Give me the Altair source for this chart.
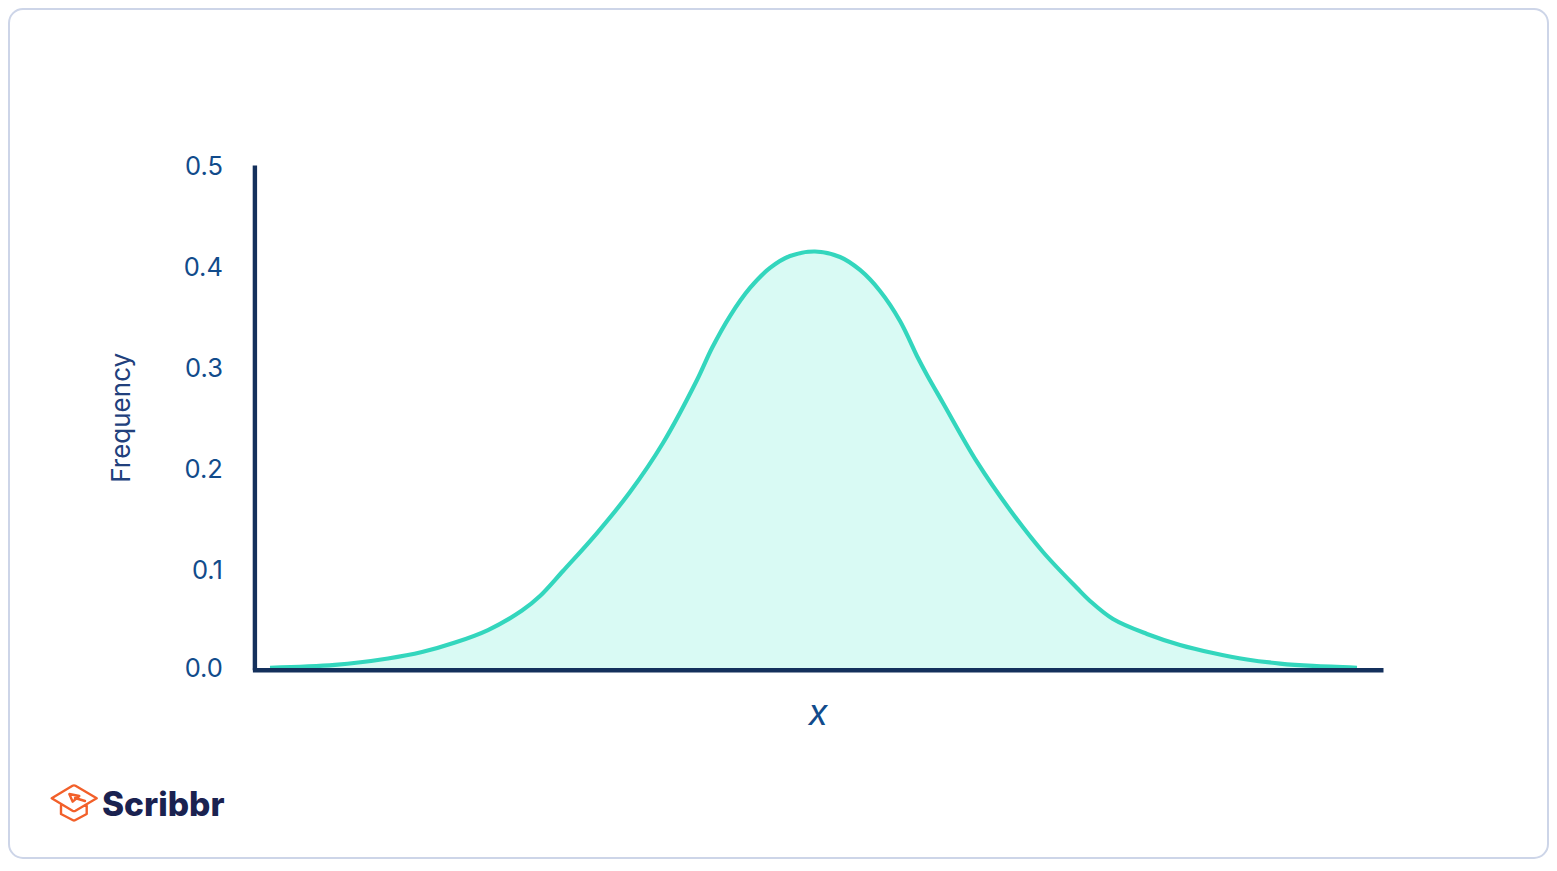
import altair as alt
import pandas as pd

x_values = [-5.45, -4.80, -4.27, -3.93, -3.60, -3.27, -2.93, -2.75, -2.52, -2.18, -1.85, -1.52, -1.18, -1.03,
            -0.85, -0.65, -0.45, -0.25, 0.0, 0.25, 0.45, 0.65, 0.85, 1.03, 1.12, 1.28, 1.62, 1.95, 2.28, 2.62,
            2.75, 2.98, 3.32, 3.65, 3.98, 4.32, 4.65, 4.98, 5.42]
frequency = [.0019, .0047, .0111, .0175, .0269, .0393, .0586, .0730, .0978, .1354, .1760, .2246, .2870, .3187,
             .3504, .3782, .3980, .4098, .4143, .4089, .3960, .3752, .3455, .3088, .2920, .2642, .2058, .1582,
             .1166, .0809, .0681, .0502, .0354, .0245, .0165, .0101, .0061, .0037, .0019]
y_ticks = [0.0, 0.1, 0.2, 0.3, 0.4, 0.5]

NAVY = "#14305C"
LABEL = "#114B8B"
TEAL = "#33D6BD"
FILL = "#D9FAF4"
ORANGE = "#F2602A"
INK = "#1A2250"
BORDER = "#CDD5E8"

PAD_L, PAD_T = 244.4, 157
W, H = 1130.6, 504.7
TOTAL_W, TOTAL_H = 1541, 851

df = pd.DataFrame({"x": x_values, "y": frequency})

x_enc = alt.X("x:Q", scale=alt.Scale(domain=[-5.626, 5.68], nice=False, zero=False),
              axis=alt.Axis(title="x", values=[], ticks=False, labels=False, grid=False, domainColor=NAVY,
                            domainWidth=4.4, titleFont="Inter", titleFontSize=36, titleFontStyle="italic",
                            titleFontWeight=400, titleColor=LABEL, titlePadding=27, zindex=1))
y_enc = alt.Y("y:Q", scale=alt.Scale(domain=[0, 0.5], nice=False),
              axis=alt.Axis(title="Frequency", values=y_ticks, format=".1f", ticks=False, grid=False,
                            domainColor=NAVY, domainWidth=4.4, offset=-2, labelFont="Inter", labelFontSize=25.5,
                            labelFontWeight=400, labelColor=LABEL, labelPadding=32,
                            labelOffset={"condition": {"test": "datum.value === 0", "value": -1.5}, "value": 1.5},
                            titleFont="Inter", titleFontSize=26, titleFontWeight=400, titleColor="#21407C",
                            titlePadding=49, zindex=1))

card = alt.Chart(pd.DataFrame({"a": [0]})).mark_rect(
    fill="white", stroke=BORDER, strokeWidth=2, cornerRadius=14, clip=False
).encode(x=alt.value(-PAD_L + 1), x2=alt.value(TOTAL_W - PAD_L - 1),
         y=alt.value(-PAD_T + 1), y2=alt.value(TOTAL_H - PAD_T - 1))

area = alt.Chart(df).mark_area(color=FILL, interpolate="catmull-rom").encode(x=x_enc, y=y_enc)
line = alt.Chart(df).mark_line(color=TEAL, strokeWidth=4.2, interpolate="catmull-rom").encode(x=x_enc, y=y_enc)

CAP = ("M-22.3,-4.7 L-1.5,-17.2 Q0,-18 1.5,-17.2 L22.7,-4.7 L1.5,7.7 Q0,8.5 -1.5,7.7 Z "
       "M-13,2.7 V11 L-1,17.2 Q0,17.7 1,17.2 L12.7,11 V2.7 "
       "M-4.7,-9 L5.3,-7 L-1.3,-1.3 Z M1,-5 L11,-2")
logo = alt.Chart(pd.DataFrame({"a": [0]})).mark_point(
    shape=CAP, size=4, filled=False, stroke=ORANGE, strokeWidth=2.4, strokeJoin="round", strokeCap="round",
    opacity=1, clip=False
).encode(x=alt.value(74 - 8 - PAD_L), y=alt.value(803 - 8 - PAD_T))

brand = alt.Chart(pd.DataFrame({"t": ["Scribbr"]})).mark_text(
    font="Inter", fontSize=33.5, fontWeight=800, color=INK, align="left", baseline="alphabetic"
).encode(x=alt.value(102 - 8 - PAD_L), y=alt.value(815.5 - 8 - PAD_T), text="t:N")

chart = alt.layer(card, area, line, logo, brand).properties(
    width=W, height=H,
    padding={"left": PAD_L, "top": PAD_T, "right": TOTAL_W - PAD_L - W, "bottom": TOTAL_H - PAD_T - H},
    autosize=alt.AutoSizeParams(type="none"),
    background="white",
).configure_view(stroke=None)

chart.save("out.html", embed_options={"renderer": "svg", "actions": False})
